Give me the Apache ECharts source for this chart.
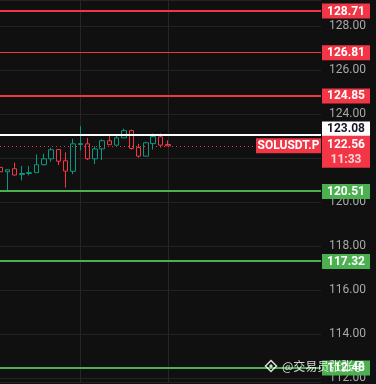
<!DOCTYPE html>
<html>
<head>
<meta charset="utf-8">
<script src="https://cdn.jsdelivr.net/npm/echarts@6/dist/echarts.min.js"></script>
<style>
html,body{margin:0;padding:0;background:#101010;}
#c{width:376px;height:384px;}
</style>
</head>
<body>
<div id="c"></div>
<script>
// ---- data ----
var slotCount = 45;
var categories = Array.from({length: slotCount}, function (_, i) { return 'K' + (i + 1); });
// [open, close, low, high]
var candles = [
  [121.58, 121.38, 121.03, 121.97],
  [121.38, 121.47, 120.55, 121.49],
  [121.52, 121.23, 121.21, 121.80],
  [121.25, 121.30, 120.99, 121.64],
  [121.30, 121.34, 121.21, 121.64],
  [121.34, 121.70, 121.33, 122.17],
  [121.70, 121.97, 121.67, 122.20],
  [121.97, 122.38, 121.84, 122.47],
  [122.39, 121.86, 121.68, 122.40],
  [121.88, 121.41, 120.66, 122.26],
  [121.40, 122.65, 121.27, 122.88],
  [122.62, 122.66, 122.35, 123.45],
  [122.65, 121.97, 121.91, 122.92],
  [121.97, 122.42, 121.73, 122.54],
  [122.42, 122.79, 121.91, 122.85],
  [122.79, 122.61, 122.61, 123.07],
  [122.59, 122.92, 122.59, 123.03],
  [122.92, 123.25, 122.92, 123.34],
  [123.25, 122.44, 122.39, 123.30],
  [122.48, 122.09, 122.02, 122.65],
  [122.09, 122.70, 122.09, 122.74],
  [122.66, 122.98, 122.39, 123.12],
  [122.97, 122.59, 122.48, 123.12],
  [122.62, 122.56, 122.56, 122.81]
];
var yTicks = [112, 114, 116, 118, 120, 122, 124, 126, 128];
var levelValues = [128.71, 126.81, 124.85, 123.08, 120.51, 117.32, 112.48];
var levelKinds  = ['red', 'red', 'red', 'white', 'green', 'green', 'green'];
var lastPrice = 122.56;
var countdown = '11:33';
var symbolName = 'SOLUSDT.P';
var watermarkText = '@交易员张张子';
var vGridIndex = [11, 23];

// ---- styles ----
var C = { red: '#f23645', green: '#4caf50', white: '#ffffff', teal: '#089981', bg: '#101010' };
var levelWidth = [2, 1, 2, 2, 2, 2, 2];
var FONT = 'Roboto, "Noto Sans", sans-serif';

var chart = echarts.init(document.getElementById('c'), null, {renderer: 'canvas'});

var markData = levelValues.map(function (v, i) {
  return { yAxis: v, lineStyle: { color: C[levelKinds[i]], width: levelWidth[i], type: 'solid' } };
});
markData.push({ yAxis: lastPrice, lineStyle: { color: C.red, width: 1, type: [1, 3] } });

chart.setOption({
  backgroundColor: C.bg,
  animation: false,
  grid: { left: 0, right: 55, top: 0, bottom: 0 },
  xAxis: {
    type: 'category', data: categories, boundaryGap: false,
    axisLine: { show: false }, axisTick: { show: false }, axisLabel: { show: false },
    splitLine: { show: true, interval: function (idx) { return vGridIndex.indexOf(idx) >= 0; },
                 lineStyle: { color: '#262626', width: 1 } }
  },
  yAxis: {
    type: 'value', position: 'right', scale: true,
    min: 111.785, max: 129.192, splitNumber: 8, minInterval: 2, maxInterval: 2,
    axisLine: { show: false }, axisTick: { show: false },
    axisLabel: {
      color: '#a8a8a8', fontSize: 12, fontFamily: FONT, align: 'right', margin: 45,
      showMinLabel: false, showMaxLabel: false,
      formatter: function (v) {
        for (var i = 0; i < yTicks.length; i++) if (Math.abs(yTicks[i] - v) < 1e-6) return yTicks[i].toFixed(2);
        return '';
      }
    },
    splitLine: { show: true, lineStyle: { color: '#232323', width: 1 } }
  },
  series: [{
    type: 'candlestick',
    data: candles,
    barWidth: 5,
    clip: true,
    itemStyle: { color: C.bg, color0: C.bg, borderColor: C.teal, borderColor0: C.red, borderWidth: 1 },
    markLine: {
      silent: true, symbol: ['none', 'none'], animation: false,
      label: { show: false },
      data: markData
    }
  }]
});

// ---- price tags positioned by the axis scale ----
function py(v) { return chart.convertToPixel({ yAxisIndex: 0 }, v); }
var gfx = [];
var tagX = 322, tagW = 48, tagH = 15;
function textEl(txt, x, y, color, size, weight, z) {
  return { type: 'text', z: z, silent: true,
    style: { text: txt, x: x, y: y, fill: color, font: weight + ' ' + size + 'px ' + FONT,
             align: 'center', verticalAlign: 'middle', textAlign: 'center', textVerticalAlign: 'middle' } };
}
levelValues.forEach(function (v, i) {
  var kind = levelKinds[i];
  var cy = py(v) + 0.5;
  if (kind === 'white') cy -= 6;
  gfx.push({ type: 'rect', z: 100, silent: true, shape: { x: tagX, y: cy - tagH / 2, width: tagW, height: tagH },
             style: { fill: C[kind] } });
  gfx.push(textEl(v.toFixed(2), tagX + tagW / 2, cy + 0.5, kind === 'white' ? '#131722' : '#ffffff', 12, 'bold', 101));
});
// last price block
var lp = py(lastPrice);
gfx.push({ type: 'rect', z: 110, silent: true, shape: { x: tagX, y: lp - 10, width: tagW, height: 32 }, style: { fill: C.red } });
gfx.push(textEl(lastPrice.toFixed(2), tagX + tagW / 2, lp - 0.5, '#ffffff', 12, 'bold', 111));
gfx.push(textEl(countdown, tagX + tagW / 2, lp + 14.5, 'rgba(255,255,255,0.78)', 12, 'bold', 111));
// symbol tag
gfx.push({ type: 'rect', z: 110, silent: true, shape: { x: 256, y: lp - 7.5, width: 65, height: 15 }, style: { fill: C.red } });
gfx.push(textEl(symbolName, 256 + 32.5, lp + 0.5, '#ffffff', 12, 'bold', 111));

// watermark
var wmY = 366;
gfx.push({ type: 'polygon', z: 200, silent: true, shape: { points: [[271, wmY - 5.5], [276.5, wmY], [271, wmY + 5.5], [265.5, wmY]] },
           style: { fill: 'none', stroke: 'rgba(255,255,255,0.85)', lineWidth: 1.5 } });
gfx.push({ type: 'polygon', z: 200, silent: true, shape: { points: [[271, wmY - 2], [273, wmY], [271, wmY + 2], [269, wmY]] },
           style: { fill: 'rgba(255,255,255,0.85)' } });
gfx.push({ type: 'text', z: 200, silent: true,
  style: { text: watermarkText, x: 282, y: wmY, fill: 'rgba(255,255,255,0.82)',
           font: '12px "Noto Sans CJK SC", sans-serif', align: 'left', verticalAlign: 'middle',
           textAlign: 'left', textVerticalAlign: 'middle' } });

chart.setOption({ graphic: gfx });
</script>
</body>
</html>
